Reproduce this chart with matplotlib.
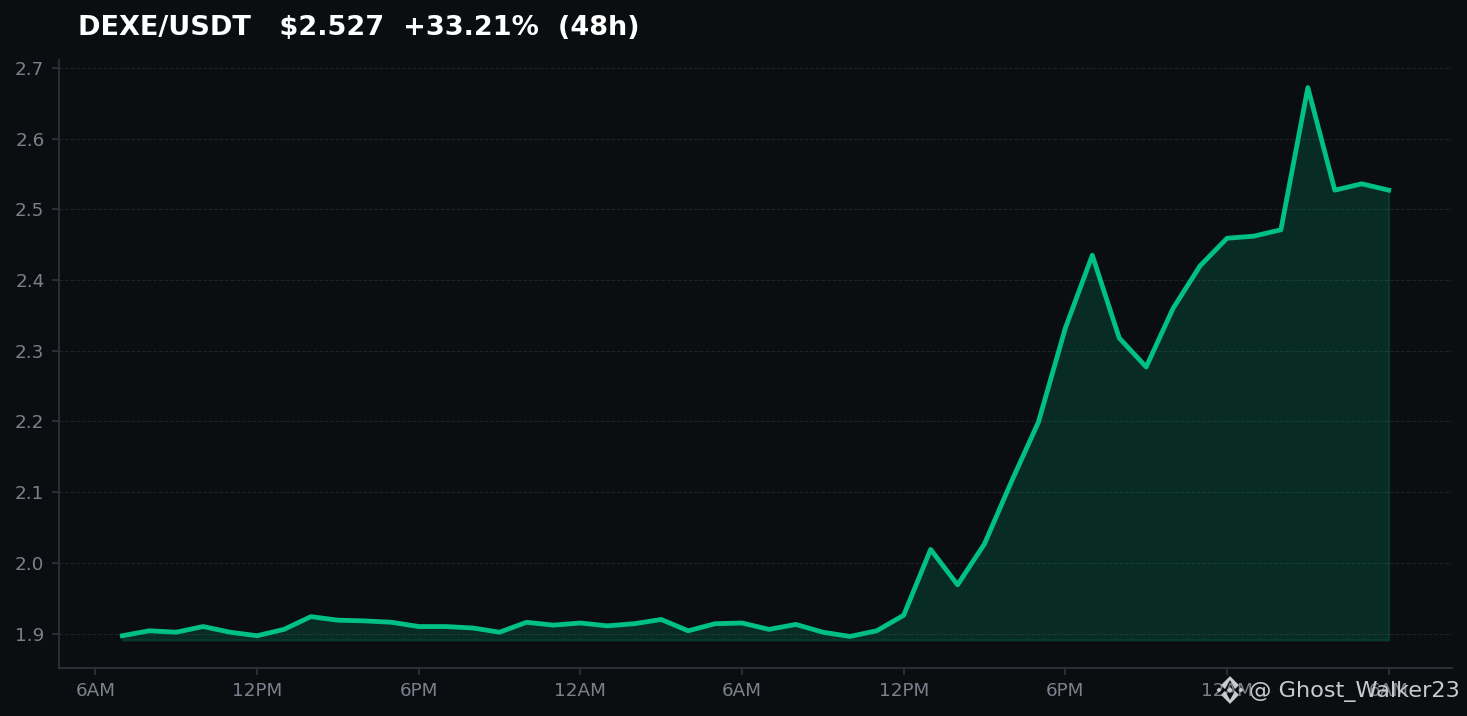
#!/usr/bin/env python3
"""DEXE/USDT 48h price chart on a dark background."""

import matplotlib
matplotlib.use('Agg')
import matplotlib.pyplot as plt
from matplotlib.patches import Polygon

# hours since the first 6AM tick
hours = list(range(1, 49))
prices = [
    1.897, 1.904, 1.902, 1.910, 1.902, 1.897, 1.906, 1.924, 1.919, 1.918,
    1.916, 1.910, 1.910, 1.908, 1.902, 1.916, 1.912, 1.915, 1.911, 1.914,
    1.920, 1.904, 1.914, 1.915, 1.906, 1.913, 1.902, 1.896, 1.904, 1.926,
    2.019, 1.969, 2.027, 2.115, 2.199, 2.332, 2.435, 2.318, 2.277, 2.360,
    2.420, 2.459, 2.462, 2.471, 2.672, 2.527, 2.536, 2.527,
]
fill_floor = 1.891
tick_hours = [0, 6, 12, 18, 24, 30, 36, 42, 48]
tick_labels = ['6AM', '12PM', '6PM', '12AM', '6AM', '12PM', '6PM', '12AM', '6AM']
y_ticks = [1.9, 2.0, 2.1, 2.2, 2.3, 2.4, 2.5, 2.6, 2.7]

BG = '#0a0e11'
GREEN = '#00c087'
W, H = 1467, 716

fig = plt.figure(figsize=(W / 150, H / 150), dpi=150, facecolor=BG)
ax = fig.add_axes([59 / W, (H - 667.6) / H, (1452 - 59) / W, (667.6 - 60) / H], facecolor=BG)

ax.fill_between(hours, prices, fill_floor, color=GREEN, alpha=0.17, linewidth=1)
ax.plot(hours, prices, color=GREEN, linewidth=2.3, solid_joinstyle='round')

ax.set_xticks(tick_hours)
ax.set_xticklabels(tick_labels)
ax.set_yticks(y_ticks)
ax.set_yticklabels([f'{v:.1f}' for v in y_ticks])
ax.tick_params(colors='#30343c', labelcolor='#7b808c', labelsize=8.8, width=0.8, length=3.5)
ax.grid(axis='y', color='#1e2227', linestyle='--', linewidth=0.5)
ax.set_axisbelow(True)

for side in ('top', 'right'):
    ax.spines[side].set_visible(False)
for side in ('left', 'bottom'):
    ax.spines[side].set_color('#30343c')
    ax.spines[side].set_linewidth(0.8)

fig.text(78 / W, 1 - 27.6 / H, 'DEXE/USDT   $2.527  +33.21%  (48h)',
         color='white', fontsize=13, fontweight='bold', va='center', ha='left')

# watermark sits on top of the last tick labels
mark = '#c8cbd0'
fig.text(1249 / W, 1 - 691 / H, '@ Ghost_Walker23', color=mark, fontsize=10.75,
         va='center', ha='left', zorder=10)


def diamond(cx, cy, r):
    pts = [((cx + dx) / W, 1 - (cy + dy) / H) for dx, dy in ((r, 0), (0, r), (-r, 0), (0, -r))]
    fig.add_artist(Polygon(pts, closed=True, transform=fig.transFigure,
                           facecolor=mark, edgecolor='none', zorder=10))


def chevron(cx, cy, r, t, up):
    s = -1 if up else 1
    pts = [(cx - r, cy + s * r * 0.1), (cx, cy + s * (r * 1.1)), (cx + r, cy + s * r * 0.1),
           (cx + r - t, cy + s * (r * 0.1 - t)), (cx, cy + s * (r * 1.1 - t)),
           (cx - r + t, cy + s * (r * 0.1 - t))]
    pts = [(x / W, 1 - y / H) for x, y in pts]
    fig.add_artist(Polygon(pts, closed=True, transform=fig.transFigure,
                           facecolor=mark, edgecolor='none', zorder=10))


# exchange logo next to the handle
chevron(1230, 686, 9, 4, True)
chevron(1230, 694, 9, 4, False)
diamond(1230, 690, 3)
diamond(1219, 690, 2.5)
diamond(1241, 690, 2.5)

fig.savefig('out.png', dpi=150, facecolor=BG)
